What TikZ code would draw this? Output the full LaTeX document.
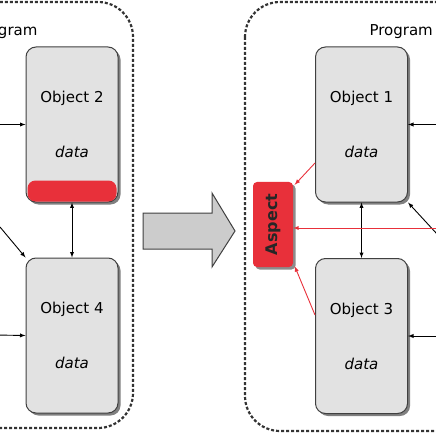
\documentclass[tikz,border=0pt]{standalone}
\usepackage{fontspec}
\setmainfont{DejaVu Sans}
\usepackage{xcolor}
\usepackage{graphicx}
\usetikzlibrary{arrows,shadows,calc}
\definecolor{aspred}{HTML}{E8303A}
\definecolor{objgray}{HTML}{E2E2E2}
\begin{document}
\begin{tikzpicture}[x = 1bp, y = -1bp, >=latex,
  object/.style = {draw = black!75, line width = 1bp, fill = objgray, rounded corners = 10bp,
    minimum width = 92bp, minimum height = 155bp, align = center,
    font = \fontsize{15bp}{18bp}\selectfont,
    drop shadow = {shadow xshift = 2.5bp, shadow yshift = -2.5bp, fill = black!50, opacity = 1}},
  frame/.style = {draw = black!80, line width = 2.2bp, dash pattern = on 3bp off 2bp, rounded corners = 35bp},
  link/.style = {->, line width = 0.9bp},
  redlink/.style = {->, draw = aspred, line width = 0.9bp}]
\useasboundingbox (0,0) rectangle (435,435);
\draw[frame] (-100,2) rectangle (133,428);
\draw[frame] (245,2) rectangle (560,431);
\node[anchor = base east, font = \fontsize{15bp}{18bp}\selectfont] (lprog) at (41,36) {Program};
\node[anchor = base west, font = \fontsize{15bp}{18bp}\selectfont] (rprog) at (366,36) {Program};
\node[object] (o2) at (72,124.5) {Object 2\\[37bp]\textit{data}};
\node[object] (o4) at (72,335.5) {Object 4\\[37bp]\textit{data}};
\node[object] (o1) at (361.5,124.5) {Object 1\\[37bp]\textit{data}};
\node[object] (o3) at (361.5,336) {Object 3\\[37bp]\textit{data}};
\fill[aspred, rounded corners = 8bp] ([xshift = 2bp, yshift = 1bp]o2.south west) rectangle ([xshift = -2bp, yshift = 22bp]o2.south east);
\node[fill = aspred, rounded corners = 4bp, minimum width = 40bp, minimum height = 85bp, inner sep = 0pt,
  text = black!85, font = \fontsize{16bp}{18bp}\selectfont\bfseries,
  drop shadow = {shadow xshift = 2.5bp, shadow yshift = -2.5bp, fill = black!45, opacity = 1}] (asp) at (273,224.5) {\rotatebox{90}{Aspect}};
\draw[draw = black!75, line width = 1bp, fill = black!20] (143,213) -- (212,213) -- (212,193) -- (235,231) -- (212,267) -- (212,249) -- (143,249) -- cycle;
\coordinate (inl2) at (-5,124.5);
\coordinate (inl4) at (-5,335);
\coordinate (inld) at (0,227);
\coordinate (inr1) at (440,124.5);
\coordinate (inr3) at (440,336);
\coordinate (inrd) at (437,234);
\coordinate (redin) at (440,228);
\draw[link] (inl2) -- (o2.west);
\draw[link] (inl4) -- (o4.west);
\draw[link] (inld) -- (o4.north west);
\draw[link] (inr1) -- (o1.east);
\draw[link] (inr3) -- (o3.east);
\draw[link] (inrd) -- (o1.south east);
\draw[<->, line width = 0.9bp] (o2.south) -- (o4.north);
\draw[<->, line width = 0.9bp] (o1.south) -- (o3.north);
\draw[redlink] ([yshift = -38.5bp]o1.west) -- ([xshift = 1.5bp, yshift = -3bp]asp.north east);
\draw[redlink] ([yshift = 21bp]o3.west) -- ([xshift = 1.5bp, yshift = 1bp]asp.south east);
\draw[redlink] (redin) -- (redin -| asp.east);
\end{tikzpicture}
\end{document}
